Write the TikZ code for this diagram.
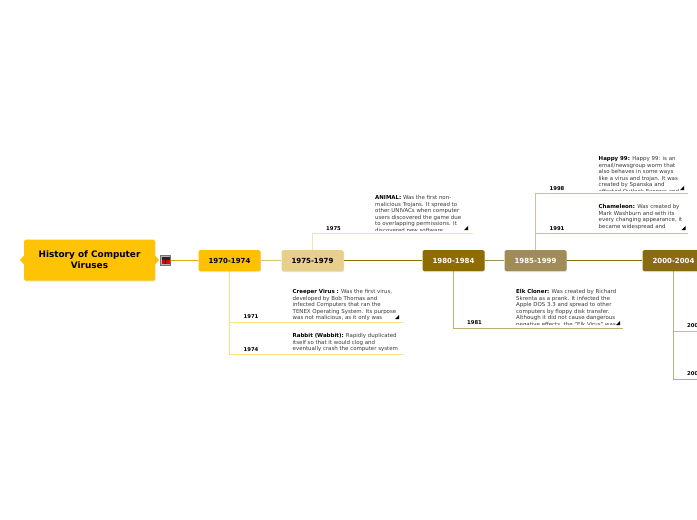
\documentclass[tikz,border=0pt]{standalone}
\usepackage{fontspec}
\setmainfont{DejaVu Sans}
\usetikzlibrary{shadows}
\definecolor{cMain}{HTML}{FFC305}
\definecolor{cA}{HTML}{FFC000}
\definecolor{cB}{HTML}{E9CF8C}
\definecolor{cC}{HTML}{8F6C00}
\definecolor{cD}{HTML}{A08C58}
\definecolor{cE}{HTML}{8A6A12}
\tikzset{
  topic/.style={rounded corners=1.5pt,minimum width=62pt,minimum height=21pt,inner sep=0pt,align=center,
    font=\fontsize{7}{8}\selectfont\bfseries,
    drop shadow={opacity=.22,shadow xshift=.6pt,shadow yshift=-1pt}},
  lighttopic/.style={topic,text=white},
  year/.style={font=\fontsize{5.3}{6}\selectfont\bfseries,inner sep=0pt,text=black},
  body/.style={anchor=north west,inner sep=0pt,align=left,text=black!78,font=\fontsize{5.45}{6.55}\selectfont},
  spine/.style={line width=1.7pt},
  branch/.style={line width=1pt},
}
\begin{document}
\begin{tikzpicture}[x=1pt,y=-1pt]
\useasboundingbox (0,0) rectangle (697,520);
\clip (0,0) rectangle (697,520);
\fill[white] (0,0) rectangle (697,520);
% connector end points
\coordinate (e71) at (403,322.5);
\coordinate (j71) at (229.5,322.5);
\coordinate (e74) at (403,354.5);
\coordinate (j74) at (229.5,354.5);
\coordinate (e75) at (473,233.5);
\coordinate (j75) at (312.5,233.5);
\coordinate (e81) at (623,328.5);
\coordinate (j81) at (453.5,328.5);
\coordinate (e98) at (688,193.5);
\coordinate (j98) at (535.5,193.5);
\coordinate (e91) at (688,233.5);
\coordinate (j91) at (535.5,233.5);
\coordinate (e01) at (697,331.5);
\coordinate (j01) at (673.5,331.5);
\coordinate (e04) at (697,379.5);
\coordinate (j04) at (673.5,379.5);
% branches
\draw[branch,color=cA!50] (229.5,262) -- (j74) -- (e74);
\draw[branch,color=cA!50] (j71) -- (e71);
\draw[branch,color=cB!60] (312.5,260) -- (j75) -- (e75);
\draw[branch,color=cC!55] (453.5,262) -- (j81) -- (e81);
\draw[branch,color=cD!55] (535.5,260) -- (j98) -- (e98);
\draw[branch,color=cD!55] (j91) -- (e91);
\draw[line width=1.1pt,color=cE!55] (673.5,262) -- (j04) -- (e04);
\draw[branch,color=cE!45] (j01) -- (e01);
% topics
\fill[cMain] (24,255.5) -- (20,260) -- (24,264.5) -- cycle;
\fill[cMain] (155,255.5) -- (159,260) -- (155,264.5) -- cycle;
\node[topic,fill=cMain,minimum width=131pt,minimum height=41pt,font=\fontsize{8.9}{11.2}\selectfont\bfseries] (main) at (89.5,260) {History of Computer\\Viruses};
\node[inner sep=0pt,minimum width=10pt,minimum height=10pt,fill=black!30,draw=black!55,line width=.5pt] (icon) at (165.5,260.5) {};
\fill[black!85] (161.5,257) rectangle (169.5,263.5);
\fill[red!90!black] (161.5,260) rectangle (164.8,264);
\fill[red!90!black] (165.6,260) rectangle (169.5,264);
\node[topic,fill=cA] (t70) at (229.5,260.5) {1970-1974};
\node[topic,fill=cB] (t75) at (312.5,260.5) {1975-1979};
\node[lighttopic,fill=cC] (t80) at (453.5,260.5) {1980-1984};
\node[lighttopic,fill=cD] (t85) at (535.5,260.5) {1985-1999};
\node[lighttopic,fill=cE] (t00) at (673.5,260.5) {2000-2004};
% spine
\draw[spine,color=cA!75!cC] (icon.east) -- (t70.west);
\draw[spine,color=cB!85!cC] (t70.east) -- (t75.west);
\draw[spine,color=cC] (t75.east) -- (t80.west);
\draw[spine,color=cD] (t80.east) -- (t85.west);
\draw[spine,color=cE] (t85.east) -- (t00.west);
% years
\node[year] (y71) at (251,316.5) {1971};
\node[year] (y74) at (251,349.5) {1974};
\node[year] (y75) at (333.5,228.5) {1975};
\node[year] (y81) at (474.5,322.5) {1981};
\node[year] (y98) at (557,188.5) {1998};
\node[year] (y91) at (557,228.5) {1991};
\node[year,anchor=west] (y01) at (687,325.5) {200};
\node[year,anchor=west] (y04) at (687,373.5) {200};
% text blocks
\begin{scope}
\clip (285,286) rectangle (403,319);
\node[body] (creeper) at (292.5,289.2) {\textcolor{black}{\bfseries Creeper Virus :} Was the first virus,\\developed by Bob Thomas and\\infected Computers that ran the\\TENEX Operating System. Its purpose\\was not malicious, as it only was};
\end{scope}
\node[body] (rabbit) at (292.5,333.2) {\textcolor{black}{\bfseries Rabbit (Wabbit):} Rapidly duplicated\\itself so that it would clog and\\eventually crash the computer system};
\begin{scope}
\clip (370,192) rectangle (473,230.5);
\node[body] (animal) at (375,195.2) {\textcolor{black}{\bfseries ANIMAL:} Was the first non-\\malicious Trojans. It spread to\\other UNIVACs when computer\\users discovered the game due\\to overlapping permissions. It\\discovered new software};
\end{scope}
\begin{scope}
\clip (510,286) rectangle (623,324.8);
\node[body] (elk) at (516,289.2) {\textcolor{black}{\bfseries Elk Cloner:} Was created by Richard\\Skrenta as a prank. It infected the\\Apple DOS 3.3 and spread to other\\computers by floppy disk transfer.\\Although it did not cause dangerous\\negative effects, the ``Elk Virus'' was};
\end{scope}
\begin{scope}
\clip (594,153) rectangle (688,190.5);
\node[body] (happy) at (598.5,156.2) {\textcolor{black}{\bfseries Happy 99:} Happy 99: is an\\email/newsgroup worm that\\also behaves in some ways\\like a virus and trojan. It was\\created by Spanska and\\affected Outlook Express and};
\end{scope}
\node[body] (cham) at (598.5,204.2) {\textcolor{black}{\bfseries Chameleon:} Was created by\\Mark Washburn and with its\\every changing appearance, it\\became widespread and};
% note marks
\foreach \p in {(399,315),(468,226),(620,321),(684,186),(685.5,226)}{
  \fill[black] \p -- ++(0,4) -- ++(-4,0) -- cycle;
}
\end{tikzpicture}
\end{document}
